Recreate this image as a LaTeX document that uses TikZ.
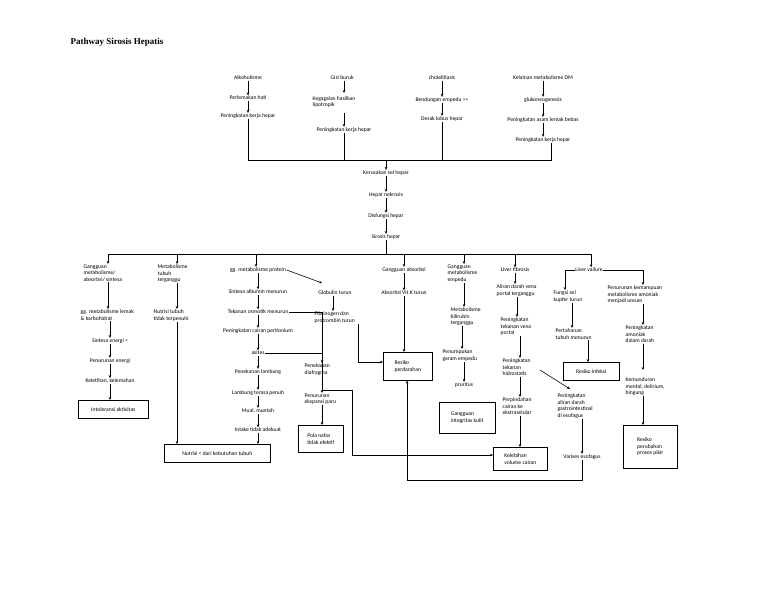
\documentclass[tikz,border=0pt]{standalone}
\usepackage{fontspec}
\setmainfont{Carlito}
\newfontfamily\titlefont{Liberation Serif}
\usetikzlibrary{arrows.meta}
\begin{document}
\begin{tikzpicture}[x=1pt,y=-1pt,
  t/.style={font=\fontsize{5.6}{6.6}\selectfont, inner sep=0.5pt, align=left},
  bx/.style={draw, line width=0.6pt, font=\fontsize{5.6}{6.6}\selectfont, align=left, inner sep=2pt, anchor=north west},
  a/.style={-{Stealth[length=3pt,width=2.6pt]}, line width=0.6pt},
  l/.style={line width=0.6pt}]
\useasboundingbox (0,0) rectangle (768,594);
\node[font=\titlefont\bfseries\fontsize{9}{10}\selectfont, anchor=west] (title) at (67,42) {Pathway Sirosis Hepatis};
% top
\node[t] (a1) at (248,78) {Alkoholisme};
\node[t] (a2) at (248,98) {Perlemakan hati};
\node[t] (a3) at (248,116) {Peningkatan kerja hepar};
\node[t,anchor=west] (b1) at (330,78) {Gizi buruk};
\node[t,anchor=west] (b2) at (312,102) {Kegagalan hasilkan\\lipotropik};
\node[t] (b3) at (344,130) {Peningkatan kerja hepar};
\node[t] (c1) at (442,78) {cholelitiasis};
\node[t] (c2) at (442,100) {Bendungan empedu {>}{>}};
\node[t] (c3) at (442,119) {Desak lobus hepar};
\node[t] (d1) at (543,78) {Kelainan metabolisme DM};
\node[t] (d2) at (543,100) {glukoneogenesis};
\node[t] (d3) at (543,120) {Peningkatan asam lemak bebas};
\node[t] (d4) at (543,140) {Peningkatan kerja hepar};
\draw[a] (a1) -- (a2); \draw[a] (a2) -- (a3);
\draw[a] (b1.south -| 344,0) -- (344,93);
\draw[a] (344,113) -- (b3);
\draw[a] (c1) -- (c2); \draw[a] (c2) -- (c3);
\draw[a] (d1) -- (d2); \draw[a] (d2) -- (d3); \draw[a] (d3) -- (d4);
\coordinate (hL) at (248,160); \coordinate (hR) at (551,160);
\draw[l] (a3) -- (hL) -- (hR) -- (d4.south -| hR);
\draw[line width=0.4pt] (b3) -- (344,160);
\draw[l] (c3) -- (442,160);
\node[t] (k1) at (386,173) {Kerusakan sel hepar};
\node[t] (k2) at (386,195) {Hepar nekrosis};
\node[t] (k3) at (386,216) {Disfungsi hepar};
\node[t] (k4) at (386,237) {Sirosis hepar};
\draw[a] (386,160) -- (k1); \draw[a] (k1) -- (k2); \draw[a] (k2) -- (k3); \draw[a] (k3) -- (k4);
\coordinate (bl) at (108,254); \coordinate (br) at (591,254);
\draw[l] (k4) -- (386,254);
\draw[l] (bl) -- (br);
% column 1
\node[t,anchor=north west] (g1) at (83,264) {Gangguan\\metabolisme/\\absorbsi/ sintesa};
\node[t,anchor=north west] (g2) at (80,309) {gg. metabolisme lemak\\\& karbohidrat};
\node[t] (g3) at (110,341) {Sintesa energi <};
\node[t] (g4) at (110,361) {Penurunan energi};
\node[t] (g5) at (110,381) {Keletihan, kelemahan};
\node[bx,minimum width=70pt,minimum height=18pt] (g6) at (78,400) {Intoleransi aktivitas};
\draw[a] (bl) -- (g1.north -| bl);
\draw[a] (g1.south -| bl) -- (g2.north -| bl);
\draw[a] (g2.south -| 110,0) -- (g3); \draw[a] (g3) -- (g4); \draw[a] (g4) -- (g5); \draw[a] (g5) -- (g6.north -| g5);
% column 2
\node[t,anchor=north west] (m1) at (157,264) {Metabolisme\\tubuh\\terganggu};
\node[t,anchor=north west] (m2) at (153,309) {Nutrisi tubuh\\tidak terpenuhi};
\node[bx,minimum width=106pt,minimum height=18pt] (nb) at (164,444) {Nutrisi < dari kebutuhan tubuh};
\draw[a] (177,254) -- (m1.north -| 177,0);
\draw[a] (m1.south -| 177,0) -- (m2.north -| 177,0);
\draw[a] (m2.south -| 177,0) -- (nb.north -| 177,0);
% column 3
\node[t] (p1) at (258,270) {gg. metabolisme protein};
\node[t] (p2) at (258,292) {Sintesa albumin menurun};
\node[t] (p3) at (258,312) {Tekanan osmotik menurun};
\node[t] (p4) at (258,331) {Peningkatan cairan peritonium};
\node[t] (p5) at (258,353) {asites};
\node[t] (p6) at (258,372) {Penekanan lambung};
\node[t] (p7) at (258,393) {Lambung terasa penuh};
\node[t] (p8) at (258,411) {Mual, muntah};
\node[t] (p9) at (258,430) {Intake tidak adekuat};
\draw[a] (256,254) -- (p1.north -| 256,0);
\draw[a] (p1) -- (p2); \draw[a] (p2) -- (p3); \draw[a] (p3) -- (p4); \draw[a] (p4) -- (p5);
\draw[a] (p5) -- (p6); \draw[a] (p6) -- (p7); \draw[a] (p7) -- (p8); \draw[a] (p8) -- (p9);
\draw[a] (p9) -- (nb.north -| p9);
\node[t] (q1) at (335,293) {Globulin turun};
\node[t,anchor=north west] (q2) at (314,311) {Fibrinogen dan\\protrombin turun};
\draw[a] (p1.east) -- (322,283);
\draw[a] (q1.south -| 333,0) -- (q2.north -| 333,0);
\node[t,anchor=north west] (r1) at (304,363) {Penekanan\\diafragma};
\node[t,anchor=north west] (r2) at (304,393) {Penurunan\\ekspansi paru};
\node[bx,minimum width=45pt,minimum height=27pt] (r3) at (298,425) {Pola nafas\\tidak efektif};
\draw[line width=0.4pt] (p5.east) -- (322,353);
\draw[a] (322,353) -- (r1.north -| 322,0);
\draw[a] (r1.south -| 322,0) -- (r2.north -| 322,0);
\draw[a] (r2.south -| 322,0) -- (r3.north -| 322,0);
% absorbsi
\node[t] (s1) at (404,270) {Gangguan absorbsi};
\node[t] (s2) at (404,293) {Absorbsi Vit K turun};
\node[bx,minimum width=49pt,minimum height=28pt] (rp) at (383,352) {Resiko\\perdarahan};
\draw[a] (404,254) -- (s1);
\draw[a] (s1) -- (s2);
\draw[a] (s2) -- (rp.north -| s2);
\draw[a] (q2.south -| 358,0) -- (358,362) -- (rp.west |- 0,362);
% empedu
\node[t,anchor=north west] (e1) at (447,264) {Gangguan\\metabolisme\\empedu};
\node[t,anchor=north west] (e2) at (450,307) {Metabolisme\\bilirubin\\terganggu};
\node[t,anchor=north west] (e3) at (442,349) {Penumpukan\\garam empedu};
\node[t] (e4) at (464,385) {pruritus};
\node[bx,minimum width=56pt,minimum height=31pt] (e5) at (439,402) {Gangguan\\integritas kulit};
\draw[a] (464,254) -- (e1.north -| 464,0);
\draw[a] (e1.south -| 464,0) -- (e2.north -| 464,0);
\draw[a] (e2.south -| 462,0) -- (e3.north -| 462,0);
\draw[a] (e3.south -| 464,0) -- (e4);
% fibrosis
\node[t] (f1) at (515,270) {Liver fibrosis};
\node[t,anchor=north west] (f2) at (496,284) {Aliran darah vena\\portal terganggu};
\node[t,anchor=north west] (f3) at (500,317) {Peningkatan\\tekanan vena\\portal};
\node[t,anchor=north west] (f4) at (502,358) {Peningkatan\\tekanan\\hidrostatis};
\node[t,anchor=north west] (f5) at (502,397) {Perpindahan\\cairan ke\\ekstraselular};
\node[bx,minimum width=54pt,minimum height=23pt] (kv) at (493,447) {Kelebihan\\volume cairan};
\draw[a] (515,254) -- (f1);
\draw[a] (f1) -- (f2.north -| f1);
\draw[a] (f2.south -| 517,0) -- (f3.north -| 517,0);
\draw[a] (f3.south -| 520,0) -- (f4.north -| 520,0);
\draw[a] (f4.south -| 520,0) -- (f5.north -| 520,0);
\draw[a] (f5.south -| 520,0) -- (kv.north -| 520,0);
\draw[l] (p3.east) -- (322,312) -- (322,390) -- (352,390) -- (352,455);
\draw[a] (352,455) -- (kv.west |- 0,455);
\node[t,anchor=north west] (v1) at (557,393) {Peningkatan\\aliran darah\\gastrointestinal\\di esofagus};
\node[t] (v2) at (582,457) {Varises esofagus};
\draw[a] (540,370) -- (570,389);
\draw[a] (v1.south -| 582,0) -- (v2);
\draw[l] (v2) -- (582,480) -- (407,480);
\draw[a] (407,480) -- (rp.south -| 407,0);
% failure
\node[t] (h1) at (589,270) {Liver vailure};
\draw[a] (br) -- (h1.north -| br);
\node[t,anchor=north west] (h2) at (553,290) {Fungsi sel\\kupfer turun};
\node[t,anchor=north west] (h3) at (555,328) {Pertahanan\\tubuh menurun};
\node[bx,minimum width=56pt,minimum height=18pt] (h4) at (563,362) {Resiko infeksi};
\draw[l] (h1.west) -- (565,270);
\draw[a] (565,270) -- (h2.north -| 565,0);
\draw[a] (h2.south -| 572,0) -- (h3.north -| 572,0);
\draw[a] (h3.south -| 588,0) -- (h4.north -| 588,0);
\node[t,anchor=north west] (u1) at (607,285) {Penurunan kemampuan\\metabolisme amoniak\\menjadi ureum};
\node[t,anchor=north west] (u2) at (625,325) {Peningkatan\\amoniak\\dalam darah};
\node[t,anchor=north west] (u3) at (625,377) {Kemunduran\\mental, delirium,\\bingung};
\node[bx,minimum width=54pt,minimum height=43pt] (u4) at (623,425) {Resiko\\perubahan\\proses pikir};
\draw[l] (h1.east) -- (643,270);
\draw[a] (643,270) -- (u1.north -| 643,0);
\draw[a] (u1.south -| 643,0) -- (u2.north -| 643,0);
\draw[a] (u2.south -| 643,0) -- (643,370);
\draw[a] (u3.south -| 643,0) -- (u4.north -| 643,0);
\end{tikzpicture}
\end{document}
